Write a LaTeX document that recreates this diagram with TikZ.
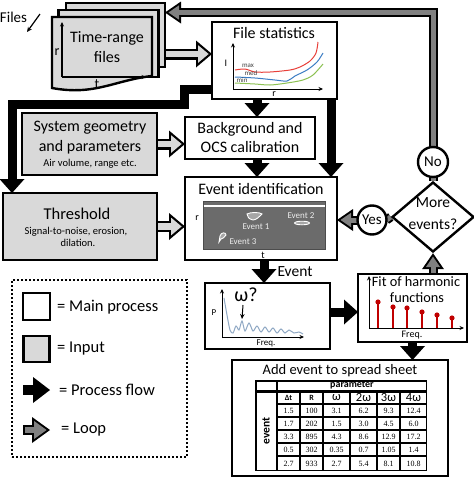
\documentclass[tikz,border=0pt]{standalone}
\usepackage{fontspec}
\setmainfont{Carlito}
\newfontfamily\serifnum{Liberation Serif}
\usetikzlibrary{arrows.meta,shapes.geometric,backgrounds,calc}
\definecolor{inpgray}{HTML}{D9D9D9}
\definecolor{loopgray}{HTML}{808080}
\definecolor{darkev}{HTML}{6B6B6B}
\definecolor{specblue}{HTML}{8FA8C4}
\definecolor{fitred}{HTML}{C00000}
\definecolor{maxred}{HTML}{E8403A}
\definecolor{medblue}{HTML}{3C7DC4}
\definecolor{mingreen}{HTML}{8CC152}
\begin{document}
\begin{tikzpicture}[x=1pt,y=-1pt,
  box/.style={draw=black, line width=2.4pt, fill=white, inner sep=0pt, outer sep=0pt},
  inbox/.style={box, fill=inpgray},
  txt/.style={inner sep=0pt, font=\fontsize{16}{19}\selectfont},
  small/.style={inner sep=0pt, font=\fontsize{10.5}{12}\selectfont},
  tiny/.style={inner sep=0pt, font=\fontsize{7}{8}\selectfont},
  blob/.style={draw=white, fill=gray!70, line width=0.9pt},
  flow/.style={line width=9pt, -{Triangle[width=25pt,length=14pt,line width=0pt]}},
  inA/.style={line width=11pt, -{Triangle[width=27pt,length=16pt,line width=0pt]}},
  inB/.style={line width=6.6pt, inpgray, shorten >=3.4pt, -{Triangle[width=17.5pt,length=10.4pt,line width=0pt]}},
  loopA/.style={line width=9pt, -{Triangle[width=22pt,length=16pt,line width=0pt]}},
  loopB/.style={line width=5pt, loopgray, shorten >=3.5pt, -{Triangle[width=14.4pt,length=10.5pt,line width=0pt]}},
  loopAl/.style={line width=9pt},
  loopBl/.style={line width=5pt, loopgray},
  axis/.style={line width=0.9pt, -{Stealth[length=4.5pt,width=4pt]}},
]
\useasboundingbox (0,0) rectangle (474,477);

% ---------- stack of files ----------
\node[inbox, minimum width=99, minimum height=64] (sheetback) at (115.5,35) {};
\node[inbox, minimum width=100, minimum height=67] (sheetmid) at (108.5,43.5) {};
\draw[line width=2.4pt, fill=inpgray] (52,17) -- (152,17) -- (152,76) .. controls (115,80) and (95,96) .. (52,88) -- cycle;
\coordinate (frontO) at (62,77);
\draw[axis, line width=1.3pt] (frontO) -- (62,22);
\draw[axis, line width=1.3pt] (frontO) -- (146,77);
\node[txt] (ttl1) at (107,38) {Time-range};
\node[txt] (ttl2) at (107,57) {files};
\node[inner sep=0pt, font=\fontsize{14}{16}\selectfont] (rlab) at (57,52) {r};
\node[inner sep=0pt, font=\fontsize{14}{16}\selectfont] (tlab) at (97,84) {t};

\node[inner sep=0pt, font=\fontsize{15}{17}\selectfont] (files) at (13.5,17) {Files};
\coordinate (fa1) at (40,14);
\coordinate (fa2) at (27,32);
\draw[line width=1.2pt, -{Stealth[length=5pt,width=4.5pt]}] (fa1) -- (fa2);

% ---------- file statistics ----------
\node[box, minimum width=125, minimum height=77] (fstats) at (274.5,60.5) {};
\node[txt] (fstitle) at (274,33) {File statistics};
\draw[axis] (233,90) -- (233,43);
\draw[axis] (233,89) -- (323,89);
\draw[mingreen, line width=1pt] plot[smooth] coordinates {(235,83) (255,84) (270,85) (287,83) (303,80) (313,75) (323,64)};
\draw[medblue, line width=1pt] plot[smooth] coordinates {(235,77) (255,78) (275,80) (287,81) (295,76) (307,70) (317,62) (323,53)};
\draw[maxred, line width=1pt] plot[smooth] coordinates {(235,70) (245,69) (255,72) (270,72) (290,70) (300,67) (310,61) (316,53) (318,42)};
\node[tiny, text=black!75] (lmax) at (248,65.5) {max};
\node[tiny, text=black!75] (lmed) at (251,73.5) {med};
\node[tiny, text=black!75] (lmin) at (242,80) {min};
\node[inner sep=0pt, font=\fontsize{10}{12}\selectfont] (fsI) at (226,63) {I};
\node[inner sep=0pt, font=\fontsize{10}{12}\selectfont] (fsr) at (274,94) {r};

% ---------- background ----------
\node[box, minimum width=130, minimum height=42] (bg) at (250,138) {};
\node[txt] (bg1) at (250,129) {Background and};
\node[txt] (bg2) at (250,147) {OCS calibration};

% ---------- system geometry ----------
\node[inbox, minimum width=135, minimum height=62] (sysgeo) at (89.5,144) {};
\node[txt] (sg1) at (90,128) {System geometry};
\node[txt] (sg2) at (90,147) {and parameters};
\node[small] (sg3) at (90,164) {Air volume, range etc.};

% ---------- threshold ----------
\node[inbox, minimum width=154, minimum height=67] (thresh) at (80,226.5) {};
\node[txt, font=\fontsize{16.5}{19}\selectfont] (th1) at (77,214) {Threshold};
\node[small] (th2) at (76,232) {Signal-to-noise, erosion,};
\node[small] (th3) at (78,243) {dilation.};

% ---------- event identification ----------
\node[box, minimum width=152, minimum height=83] (evid) at (261,218.5) {};
\node[txt] (evtitle) at (261,189) {Event identification};
\draw[line width=1pt, draw=black!70, fill=darkev] (203,201) rectangle (325,249);
\draw[white, line width=1.8pt] (203.5,206) -- (324.5,206);
\draw[blob] (247,214) .. controls (250,212) and (260,212) .. (262,214) .. controls (259,217) and (256,220) .. (253,220) .. controls (249,219) and (247,217) .. cycle;
\draw[blob] (302,223) ellipse (7.5 and 1.8);
\draw[blob] (219,242) -- (220,236) .. controls (221,232) and (226,232) .. (226,235) .. controls (225,238) and (222,238) .. (221,239) -- cycle;
\node[inner sep=0pt, font=\fontsize{9}{10}\selectfont, text=gray!15] (ev1) at (256,227) {Event 1};
\node[inner sep=0pt, font=\fontsize{9}{10}\selectfont, text=gray!15] (ev2) at (301,216) {Event 2};
\node[inner sep=0pt, font=\fontsize{9}{10}\selectfont, text=gray!15] (ev3) at (243,242) {Event 3};
\node[inner sep=0pt, font=\fontsize{10}{12}\selectfont] (evr) at (197,218) {r};
\node[inner sep=0pt, font=\fontsize{10}{12}\selectfont] (evt) at (263,255) {t};

% ---------- decision ----------
\node[diamond, draw=black, line width=2.4pt, fill=white, minimum width=82, minimum height=70, inner sep=0pt] (more) at (433,217) {};
\node[txt, font=\fontsize{15.5}{18}\selectfont] (more1) at (433,203) {More};
\node[txt, font=\fontsize{15.5}{18}\selectfont] (more2) at (433,224) {events?};
\node[box, circle, minimum size=30, font=\fontsize{15}{17}\selectfont] (no) at (433,162) {No};
\node[box, circle, minimum size=29, font=\fontsize{15}{17}\selectfont] (yes) at (372,220) {Yes};

% ---------- spectrum ----------
\node[txt, font=\fontsize{15.5}{18}\selectfont] (evtlab) at (295,272) {Event};
\node[box, minimum width=125, minimum height=66] (spec) at (267.5,316) {};
\draw[axis] (222,338) -- (222,289);
\draw[axis] (222,337) -- (304,337);
\draw[specblue, line width=1pt] plot[smooth] coordinates {(224,298) (227,315) (230,330) (233,333) (236,326) (239,330) (242,321) (245,331) (249,323) (253,331) (257,326) (261,332) (265,327) (269,332) (273,328) (277,333) (281,329) (285,333) (289,330) (294,333) (299,332) (303,334)};
\node[inner sep=0pt, font=\fontsize{9}{10}\selectfont] (specP) at (214,313) {P};
\node[inner sep=0pt, font=\fontsize{9}{10}\selectfont] (specF) at (266,343) {Freq.};
\node[inner sep=0pt, font=\fontsize{20}{22}\selectfont] (omq) at (246,295) {ω?};
\coordinate (oa1) at (243,305);
\coordinate (oa2) at (242,319);
\draw[line width=1pt, -{Stealth[length=5pt,width=4.5pt]}] (oa1) -- (oa2);

% ---------- fit ----------
\node[box, minimum width=109, minimum height=68] (fit) at (412.5,308) {};
\draw[axis] (369,329) -- (369,276);
\draw[axis] (369,328) -- (464,328);
\foreach \x/\y [count=\k] in {378/302,393/307,407/308,422/312,437/315,452/318} {
  \draw[fitred, line width=1.5pt] (\x,328) -- (\x,\y);
  \fill[fitred] (\x,\y) circle (2.6);
}
\node[txt, font=\fontsize{14.3}{16}\selectfont] (fit1) at (416,282) {Fit of harmonic};
\node[txt, font=\fontsize{14.3}{16}\selectfont] (fit2) at (417,298) {functions};
\node[inner sep=0pt, font=\fontsize{10}{12}\selectfont] (fitF) at (412,335) {Freq.};

% ---------- spreadsheet ----------
\node[box, minimum width=216, minimum height=116] (sheet) at (340,418) {};
\node[txt, font=\fontsize{14.5}{17}\selectfont] (shtitle) at (340,371) {Add event to spread sheet};
\fill[black] (255,380) rectangle (427,471);
\fill[white] (256.5,381.5) rectangle (275.8,390.3);
\fill[white] (278.2,381.5) rectangle (425.5,390.3);
\fill[white] (256.5,392.7) rectangle (275.8,469.5);
\foreach \xa/\xb in {277/300,300/323,323/350,350/377,377/400,400/427}
  \foreach \ya/\yb in {391.5/404,404/417,417/430,430/443,443/456,456/471}
    \fill[white] (\xa+1.2,\ya+1.2) rectangle (\xb-1.2,\yb-1.2);
\node[inner sep=0pt, font=\bfseries\fontsize{10}{12}\selectfont] (param) at (352,385.5) {parameter};
\node[inner sep=0pt, rotate=90, font=\bfseries\fontsize{11.5}{13}\selectfont] (evcol) at (266,431) {event};
\node[inner sep=0pt, font=\bfseries\fontsize{8}{9}\selectfont] (hdt) at (288.5,397.8) {Δt};
\node[inner sep=0pt, font=\bfseries\fontsize{8}{9}\selectfont] (hR) at (311.5,397.8) {R};
\node[inner sep=0pt, font=\fontsize{12.5}{14}\selectfont] (hw1) at (336.5,397.5) {ω};
\node[inner sep=0pt, font=\fontsize{12.5}{14}\selectfont] (hw2) at (363.5,397.5) {2ω};
\node[inner sep=0pt, font=\fontsize{12.5}{14}\selectfont] (hw3) at (388.5,397.5) {3ω};
\node[inner sep=0pt, font=\fontsize{12.5}{14}\selectfont] (hw4) at (413.5,397.5) {4ω};
\tikzset{num/.style={inner sep=0pt, font=\serifnum\fontsize{8}{9}\selectfont}}
\foreach \x/\v [count=\k] in {288.5/1.5,311.5/100,336.5/3.1,363.5/6.2,388.5/9.3,413.5/12.4}
  \node[num] (ra\k) at (\x,410.5) {\v};
\foreach \x/\v [count=\k] in {288.5/1.7,311.5/202,336.5/1.5,363.5/3.0,388.5/4.5,413.5/6.0}
  \node[num] (rb\k) at (\x,423.5) {\v};
\foreach \x/\v [count=\k] in {288.5/3.3,311.5/895,336.5/4.3,363.5/8.6,388.5/12.9,413.5/17.2}
  \node[num] (rc\k) at (\x,436.5) {\v};
\foreach \x/\v [count=\k] in {288.5/0.5,311.5/302,336.5/0.35,363.5/0.7,388.5/1.05,413.5/1.4}
  \node[num] (rd\k) at (\x,449.5) {\v};
\foreach \x/\v [count=\k] in {288.5/2.7,311.5/933,336.5/2.7,363.5/5.4,388.5/8.1,413.5/10.8}
  \node[num] (re\k) at (\x,463.5) {\v};

% ---------- legend ----------
\node[draw=black, line width=2.5pt, dash pattern=on 2pt off 2pt, minimum width=175, minimum height=177, inner sep=0pt] (legend) at (99.5,368.5) {};
\node[box, minimum size=27] (lmain) at (36.5,306.5) {};
\node[inbox, minimum size=26] (linput) at (36.5,349) {};
\node[txt, anchor=west, font=\fontsize{16.5}{19}\selectfont] (tmain) at (57,307) {= Main process};
\node[txt, anchor=west, font=\fontsize{16.5}{19}\selectfont] (tinput) at (57,349) {= Input};
\node[txt, anchor=west, font=\fontsize{16.5}{19}\selectfont] (tflow) at (59,390) {= Process flow};
\node[txt, anchor=west, font=\fontsize{16.5}{19}\selectfont] (tloop) at (61,430) {= Loop};
\coordinate (la1) at (23,390);
\coordinate (la2) at (50,390);
\draw[line width=10pt, -{Triangle[width=26pt,length=17pt,line width=0pt]}] (la1) -- (la2);
\coordinate (lb1) at (23,430);
\coordinate (lb2) at (50,430);
\draw[line width=10pt, -{Triangle[width=26pt,length=18pt,line width=0pt]}] (lb1) -- (lb2);
\draw[line width=6pt, loopgray, shorten >=3.4pt, -{Triangle[width=18.2pt,length=12.6pt,line width=0pt]}] ([xshift=2pt]lb1) -- (lb2);

% ---------- connectors (behind boxes) ----------
\begin{pgfonlayer}{background}
\fill[white] (0,0) rectangle (474,477);
% input arrows
\draw[inA] (sheetback.east |- 0,54) -- (fstats.west |- 0,54);
\draw[inB] (sheetback.east |- 0,54) -- (fstats.west |- 0,54);
\draw[inA] (sysgeo.east) -- (sysgeo.east -| bg.west);
\draw[inB] (sysgeo.east) -- (sysgeo.east -| bg.west);
\draw[inA] (thresh.east) -- (thresh.east -| evid.west);
\draw[inB] (thresh.east) -- (thresh.east -| evid.west);
% process flow
\draw[flow] ([xshift=7pt]bg.north |- fstats.south) -- ([xshift=7pt]bg.north);
\draw[flow] ([xshift=-6pt]fstats.south east) -- ([xshift=-6pt]fstats.south east |- evid.north);
\draw[flow] ([xshift=7pt]bg.south) -- ([xshift=7pt]bg.south |- evid.north);
\draw[flow] ([xshift=3pt]evid.south) -- ([xshift=3pt]evid.south |- spec.north);
\draw[flow] ([yshift=4pt]spec.east) -- ([yshift=4pt]spec.east -| fit.west);
\draw[flow] (fit.south) -- (fit.south |- sheet.north);
\coordinate (c1) at (184,89);
\coordinate (c2) at (184,104);
\coordinate (c3) at (12,104);
\draw[flow] (fstats.west |- c1) -- (c1) -- (c2) -- (c3) -- (c3 |- thresh.north);
% loops
\coordinate (ltop) at (sheetback.east |- 0,12.5);
\draw[loopA] (no.north) |- (ltop);
\draw[loopB] (no.north) |- (ltop);
\draw[loopA] (yes.west) -- (yes.west -| evid.east);
\draw[loopB] (yes.west) -- (yes.west -| evid.east);
\draw[loopA] (more.south |- fit.north) -- (more.south);
\draw[loopB] (more.south |- fit.north) -- (more.south);
\draw[loopAl] (no.south) -- (more.north);
\draw[loopBl] (no.south) -- (more.north);
\draw[loopAl] (yes.east) -- (more.west);
\draw[loopBl] (yes.east) -- (more.west);
\end{pgfonlayer}
\end{tikzpicture}
\end{document}
